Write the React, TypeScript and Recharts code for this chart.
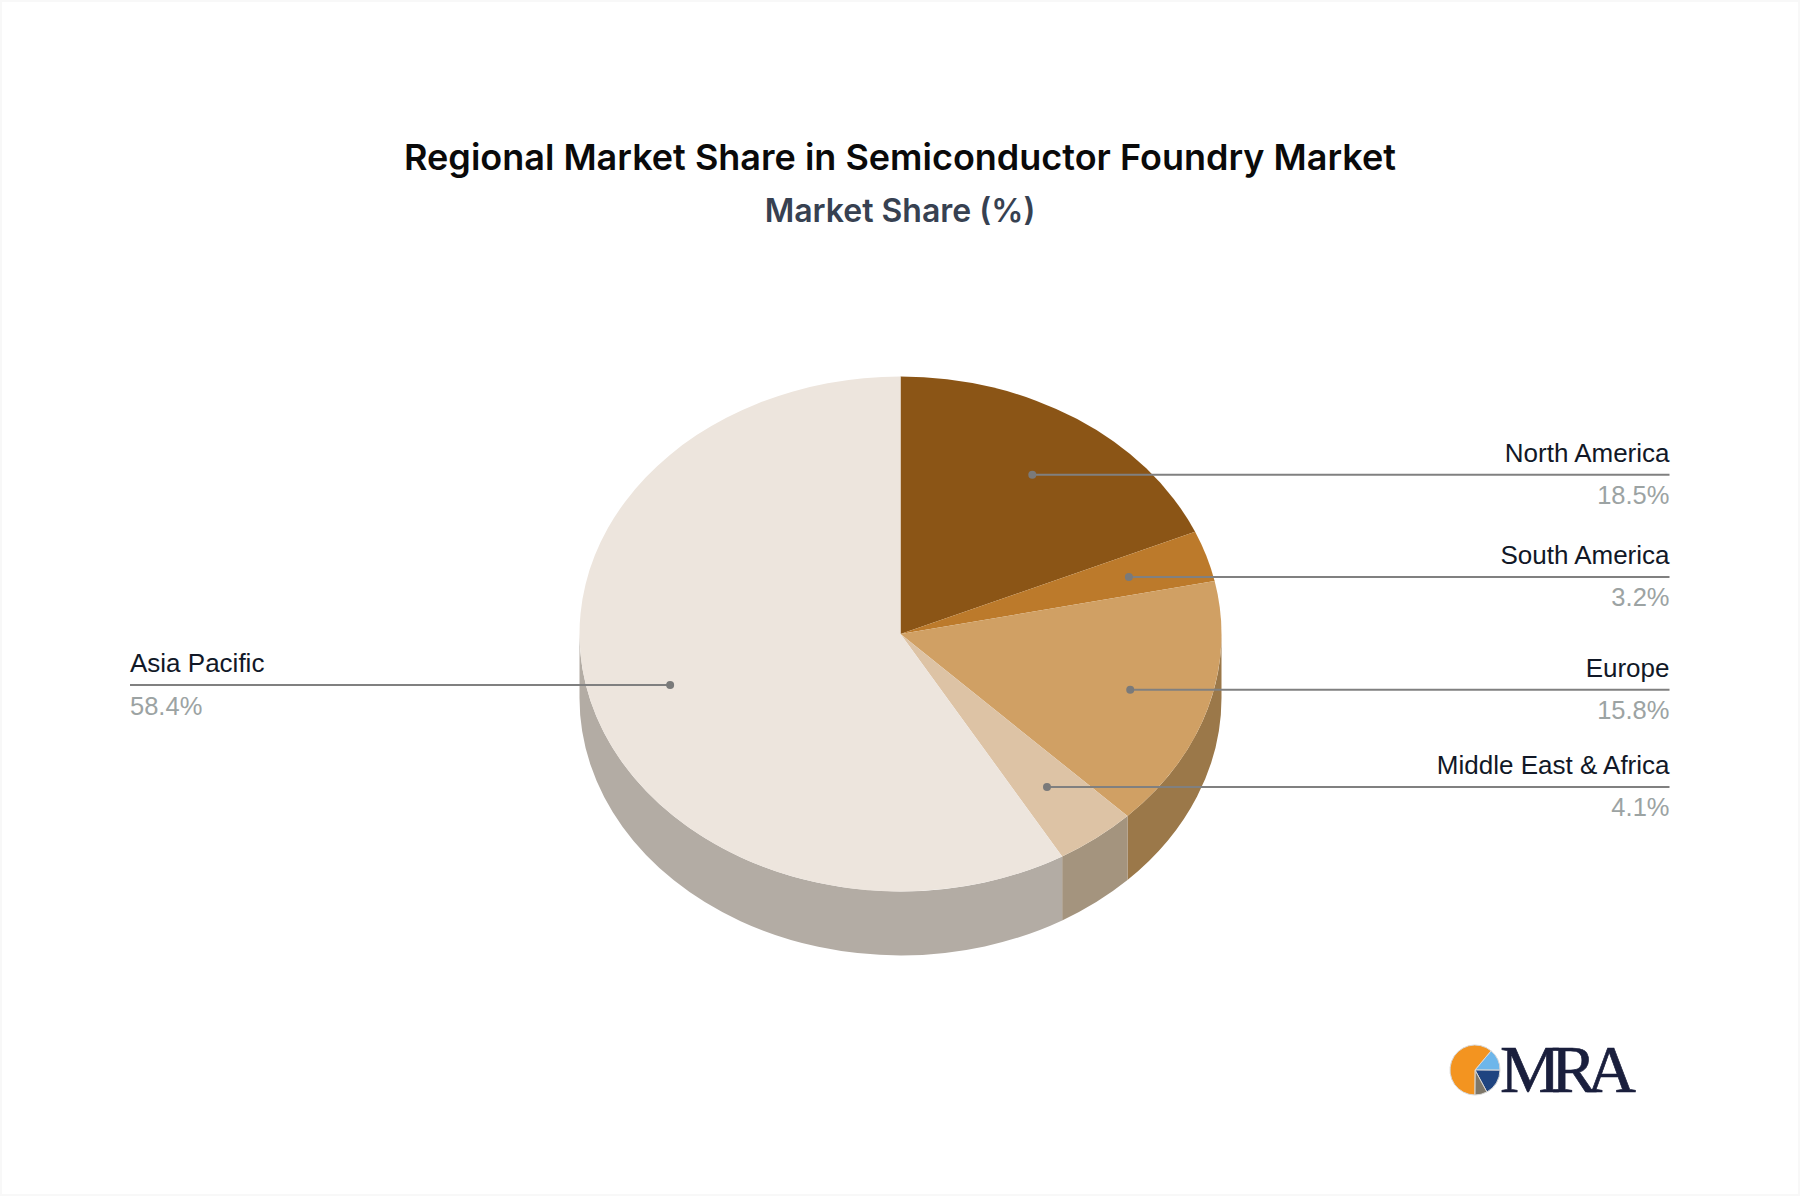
import React from 'react';
import { PieChart, Pie, Cell, Sector } from 'recharts';

const regions = ['North America', 'South America', 'Europe', 'Middle East & Africa', 'Asia Pacific'];
const shares = [18.5, 3.2, 15.8, 4.1, 58.4];
const topColors = ['#8B5516', '#BC7A2B', '#D0A064', '#DDC3A5', '#EDE5DD'];
const wallColors = ['#6E4412', '#8F5E22', '#9B7849', '#A4947E', '#B3ACA4'];

const logoNames = ['light', 'navy', 'grey', 'orange'];
const logoValues = [14, 17, 8, 61];
const logoColors = ['#6DB6EA', '#1F4480', '#7E7769', '#F39420'];

const pieData = regions.map((name, i) => ({ name, value: shares[i] }));
const logoData = logoNames.map((name, i) => ({ name, value: logoValues[i] }));

const CX = 900.5;
const CY = 634;
const RADIUS = 321;
const SQUASH = 0.802; // circle -> ellipse
const DEPTH = 64;
const LABEL_LEFT = 130;
const LABEL_RIGHT = 1669.5;

const rad = (deg: number) => (deg * Math.PI) / 180;

// top face: the normal sector, squashed vertically
const TopFace = (props: any) => (
  <g transform={`translate(0 ${props.cy}) scale(1 ${SQUASH}) translate(0 ${-props.cy})`}>
    <Sector {...props} stroke="none" />
  </g>
);

// side wall: only the part of the arc on the front half of the pie is visible
const WallFace = (props: any) => {
  const { cx, cy, outerRadius: r, startAngle, endAngle, fill } = props;
  const ry = r * SQUASH;
  const ranges: [number, number][] = [
    [-180, 0],
    [-540, -360],
    [180, 360],
  ];
  const paths: string[] = [];
  ranges.forEach(([lo, hi]) => {
    const from = Math.min(Math.max(startAngle, endAngle), hi);
    const to = Math.max(Math.min(startAngle, endAngle), lo);
    if (from <= to) return;
    const x1 = cx + r * Math.cos(rad(from));
    const y1 = cy - ry * Math.sin(rad(from));
    const x2 = cx + r * Math.cos(rad(to));
    const y2 = cy - ry * Math.sin(rad(to));
    paths.push(
      `M${x1} ${y1}A${r} ${ry} 0 0 1 ${x2} ${y2}L${x2} ${y2 + DEPTH}A${r} ${ry} 0 0 0 ${x1} ${y1 + DEPTH}Z`,
    );
  });
  return <path d={paths.join('')} fill={fill} stroke="none" />;
};

const Callout = (props: any) => {
  const { cx, cy, outerRadius, midAngle, name, value } = props;
  const x = cx + 0.5 + 0.745 * outerRadius * Math.cos(rad(midAngle));
  const y = cy + 1 - 0.745 * outerRadius * SQUASH * Math.sin(rad(midAngle));
  const onLeft = x < cx;
  const endX = onLeft ? LABEL_LEFT : LABEL_RIGHT;
  const anchor = onLeft ? 'start' : 'end';
  return (
    <g fontFamily="'Liberation Sans', Arial, sans-serif">
      <line x1={x} y1={y} x2={endX} y2={y} stroke="#808080" strokeWidth={2} />
      <circle cx={x} cy={y} r={4} fill="#7A7A7A" />
      <text x={endX} y={y - 13} textAnchor={anchor} fill="#111827" fontSize={26}>
        {name}
      </text>
      <text x={endX} y={y + 29.5} textAnchor={anchor} fill="#9CA3A3" fontSize={25.5}>
        {value}%
      </text>
    </g>
  );
};

const heading: React.CSSProperties = {
  position: 'absolute',
  left: 0,
  width: 1800,
  textAlign: 'center',
  fontFamily: 'Inter, sans-serif',
  fontWeight: 600,
  whiteSpace: 'nowrap',
};

export default function App() {
  return (
    <div
      style={{
        position: 'absolute',
        left: 0,
        top: 0,
        width: 1800,
        height: 1196,
        boxSizing: 'border-box',
        border: '2px solid #f8f8f8',
        background: '#fff',
        overflow: 'hidden',
      }}
    >
      <div style={{ ...heading, left: -2, top: 132, fontSize: 36, lineHeight: '46px', color: '#0a0a0a' }}>
        Regional Market Share in Semiconductor Foundry Market
      </div>
      <div style={{ ...heading, left: -2, top: 188, fontSize: 32, lineHeight: '42px', color: '#374151' }}>Market Share (%)</div>

      <div style={{ position: 'absolute', left: -2, top: -2 }}>
        <PieChart width={1800} height={1196} margin={{ top: 0, right: 0, bottom: 0, left: 0 }}>
          <Pie
            data={pieData}
            dataKey="value"
            cx={CX}
            cy={CY}
            outerRadius={RADIUS}
            startAngle={90}
            endAngle={-270}
            shape={WallFace}
            stroke="none"
            isAnimationActive={false}
          >
            {pieData.map((entry, i) => (
              <Cell key={entry.name} fill={wallColors[i]} />
            ))}
          </Pie>
          <Pie
            data={pieData}
            dataKey="value"
            cx={CX}
            cy={CY}
            outerRadius={RADIUS}
            startAngle={90}
            endAngle={-270}
            shape={TopFace}
            stroke="none"
            label={Callout}
            labelLine={false}
            isAnimationActive={false}
          >
            {pieData.map((entry, i) => (
              <Cell key={entry.name} fill={topColors[i]} />
            ))}
          </Pie>
        </PieChart>
      </div>

      {/* logo */}
      <div style={{ position: 'absolute', left: 1443, top: 1038 }}>
        <PieChart width={60} height={60} margin={{ top: 0, right: 0, bottom: 0, left: 0 }}>
          <Pie
            data={logoData}
            dataKey="value"
            cx={30}
            cy={30}
            outerRadius={25}
            startAngle={50}
            endAngle={-310}
            stroke="#d8d8d8"
            strokeWidth={1}
            isAnimationActive={false}
          >
            {logoData.map((entry, i) => (
              <Cell key={entry.name} fill={logoColors[i]} />
            ))}
          </Pie>
        </PieChart>
      </div>
      <div
        style={{
          position: 'absolute',
          left: 1498,
          top: 1027,
          fontFamily: "'Liberation Serif', serif",
          fontSize: 68,
          lineHeight: '80px',
          letterSpacing: -9.5,
          color: '#1A1F3D',
          WebkitTextStroke: '0.7px #1A1F3D',
        }}
      >
        MRA
      </div>
    </div>
  );
}
